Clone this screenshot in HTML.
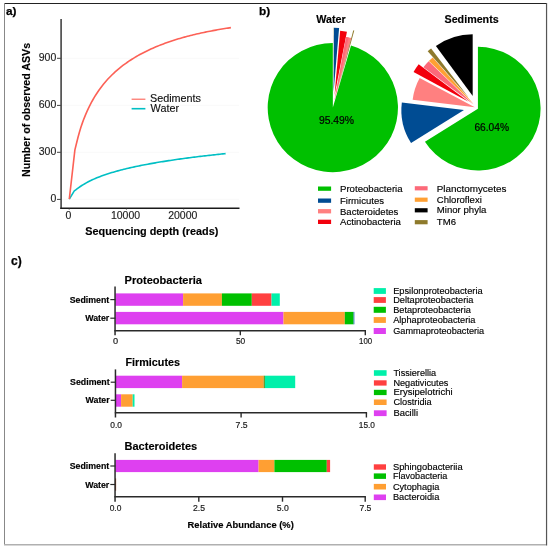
<!DOCTYPE html>
<html lang="en"><head><meta charset="utf-8"><title>Figure</title>
<style>
html,body{margin:0;padding:0;background:#fff;}
body{width:550px;height:551px;overflow:hidden;font-family:"Liberation Sans", Arial, Helvetica, sans-serif;}
svg{display:block;}
text{font-kerning:normal;}
</style></head><body>
<svg width="550" height="551" viewBox="0 0 550 551" font-family='"Liberation Sans", Arial, Helvetica, sans-serif'>
<rect x="0" y="0" width="550" height="551" fill="#fff"/>
<line x1="4" y1="3.5" x2="547" y2="3.5" stroke="#222" stroke-width="1"/>
<line x1="4.5" y1="3" x2="4.5" y2="545" stroke="#888" stroke-width="1"/>
<line x1="546.55" y1="3" x2="546.55" y2="545.4" stroke="#555" stroke-width="1.2"/>
<line x1="4" y1="544.8" x2="546" y2="544.8" stroke="#b0b0b0" stroke-width="1.6"/>
<text x="6" y="15" font-size="11.8" font-weight="700" text-anchor="start" fill="#000" stroke="#000" stroke-width="0.25">a)</text>
<text x="259.1" y="14.9" font-size="11.8" font-weight="700" text-anchor="start" fill="#000" stroke="#000" stroke-width="0.25">b)</text>
<text x="11" y="265.3" font-size="12" font-weight="700" text-anchor="start" fill="#000" stroke="#000" stroke-width="0.25">c)</text>
<line x1="62" y1="58.3" x2="239" y2="58.3" stroke="#f7f7f7" stroke-width="0.8"/>
<line x1="62" y1="105.4" x2="239" y2="105.4" stroke="#f7f7f7" stroke-width="0.8"/>
<line x1="62" y1="152.3" x2="239" y2="152.3" stroke="#f7f7f7" stroke-width="0.8"/>
<line x1="62" y1="199.4" x2="239" y2="199.4" stroke="#f7f7f7" stroke-width="0.8"/>
<line x1="61.1" y1="19" x2="61.1" y2="208.9" stroke="#444" stroke-width="1.6"/>
<line x1="60.3" y1="208.2" x2="239.5" y2="208.2" stroke="#1a1a1a" stroke-width="1.5"/>
<line x1="57" y1="58.3" x2="61" y2="58.3" stroke="#444" stroke-width="1"/>
<text x="56.3" y="61.099999999999994" font-size="10.5" text-anchor="end" fill="#222" stroke="#222" stroke-width="0.15">900</text>
<line x1="57" y1="105.4" x2="61" y2="105.4" stroke="#444" stroke-width="1"/>
<text x="56.3" y="108.2" font-size="10.5" text-anchor="end" fill="#222" stroke="#222" stroke-width="0.15">600</text>
<line x1="57" y1="152.3" x2="61" y2="152.3" stroke="#444" stroke-width="1"/>
<text x="56.3" y="155.10000000000002" font-size="10.5" text-anchor="end" fill="#222" stroke="#222" stroke-width="0.15">300</text>
<line x1="57" y1="199.4" x2="61" y2="199.4" stroke="#444" stroke-width="1"/>
<text x="56.3" y="202.20000000000002" font-size="10.5" text-anchor="end" fill="#222" stroke="#222" stroke-width="0.15">0</text>
<line x1="69.2" y1="208.2" x2="69.2" y2="209.6" stroke="#333" stroke-width="0.9"/>
<text x="68.3" y="219.0" font-size="10.5" text-anchor="middle" fill="#222" stroke="#222" stroke-width="0.15">0</text>
<line x1="126.4" y1="208.2" x2="126.4" y2="209.6" stroke="#333" stroke-width="0.9"/>
<text x="125.5" y="219.0" font-size="10.5" text-anchor="middle" fill="#222" stroke="#222" stroke-width="0.15">10000</text>
<line x1="183.7" y1="208.2" x2="183.7" y2="209.6" stroke="#333" stroke-width="0.9"/>
<text x="182.79999999999998" y="219.0" font-size="10.5" text-anchor="middle" fill="#222" stroke="#222" stroke-width="0.15">20000</text>
<path d="M69.30,199.10 L74.30,190.87 L75.80,189.78 L77.30,188.67 L78.80,187.58 L80.30,186.53 L81.80,185.54 L83.30,184.60 L84.80,183.70 L86.30,182.85 L87.80,182.04 L89.30,181.27 L90.80,180.53 L92.30,179.82 L93.80,179.14 L95.30,178.49 L96.80,177.86 L98.30,177.25 L99.80,176.67 L101.30,176.10 L102.80,175.56 L104.30,175.03 L105.80,174.51 L107.30,174.01 L108.80,173.53 L110.30,173.06 L111.80,172.60 L113.30,172.15 L114.80,171.72 L116.30,171.30 L117.80,170.88 L119.30,170.48 L120.80,170.08 L122.30,169.70 L123.80,169.32 L125.30,168.95 L126.80,168.59 L128.30,168.23 L129.80,167.88 L131.30,167.54 L132.80,167.21 L134.30,166.88 L135.80,166.56 L137.30,166.24 L138.80,165.93 L140.30,165.63 L141.80,165.33 L143.30,165.03 L144.80,164.74 L146.30,164.46 L147.80,164.18 L149.30,163.90 L150.80,163.63 L152.30,163.36 L153.80,163.10 L155.30,162.84 L156.80,162.58 L158.30,162.33 L159.80,162.08 L161.30,161.83 L162.80,161.59 L164.30,161.35 L165.80,161.11 L167.30,160.88 L168.80,160.65 L170.30,160.42 L171.80,160.20 L173.30,159.98 L174.80,159.76 L176.30,159.54 L177.80,159.33 L179.30,159.12 L180.80,158.91 L182.30,158.71 L183.80,158.50 L185.30,158.30 L186.80,158.10 L188.30,157.91 L189.80,157.71 L191.30,157.52 L192.80,157.33 L194.30,157.14 L195.80,156.95 L197.30,156.77 L198.80,156.58 L200.30,156.40 L201.80,156.22 L203.30,156.05 L204.80,155.87 L206.30,155.70 L207.80,155.52 L209.30,155.35 L210.80,155.18 L212.30,155.02 L213.80,154.85 L215.30,154.69 L216.80,154.52 L218.30,154.36 L219.80,154.20 L221.30,154.04 L222.80,153.89 L224.30,153.73 L225.60,153.60" fill="none" stroke="#00BFC4" stroke-width="1.6" stroke-linejoin="round"/>
<path d="M69.30,199.10 L74.90,149.91 L76.40,143.81 L77.90,137.78 L79.40,132.25 L80.90,127.31 L82.40,122.88 L83.90,118.83 L85.40,115.11 L86.90,111.64 L88.40,108.40 L89.90,105.35 L91.40,102.47 L92.90,99.76 L94.40,97.20 L95.90,94.77 L97.40,92.46 L98.90,90.27 L100.40,88.19 L101.90,86.20 L103.40,84.30 L104.90,82.49 L106.40,80.75 L107.90,79.08 L109.40,77.48 L110.90,75.95 L112.40,74.47 L113.90,73.05 L115.40,71.68 L116.90,70.35 L118.40,69.07 L119.90,67.84 L121.40,66.64 L122.90,65.49 L124.40,64.37 L125.90,63.28 L127.40,62.23 L128.90,61.21 L130.40,60.22 L131.90,59.25 L133.40,58.32 L134.90,57.41 L136.40,56.52 L137.90,55.66 L139.40,54.82 L140.90,54.00 L142.40,53.20 L143.90,52.43 L145.40,51.67 L146.90,50.93 L148.40,50.21 L149.90,49.51 L151.40,48.82 L152.90,48.15 L154.40,47.50 L155.90,46.86 L157.40,46.24 L158.90,45.63 L160.40,45.04 L161.90,44.46 L163.40,43.89 L164.90,43.34 L166.40,42.79 L167.90,42.26 L169.40,41.75 L170.90,41.24 L172.40,40.74 L173.90,40.26 L175.40,39.78 L176.90,39.32 L178.40,38.86 L179.90,38.42 L181.40,37.98 L182.90,37.56 L184.40,37.14 L185.90,36.73 L187.40,36.33 L188.90,35.94 L190.40,35.55 L191.90,35.18 L193.40,34.81 L194.90,34.45 L196.40,34.09 L197.90,33.75 L199.40,33.41 L200.90,33.07 L202.40,32.75 L203.90,32.43 L205.40,32.12 L206.90,31.81 L208.40,31.51 L209.90,31.21 L211.40,30.92 L212.90,30.64 L214.40,30.36 L215.90,30.09 L217.40,29.82 L218.90,29.56 L220.40,29.30 L221.90,29.05 L223.40,28.81 L224.90,28.56 L226.40,28.33 L227.90,28.09 L229.40,27.87 L230.90,27.64" fill="none" stroke="#FC6156" stroke-width="1.6" stroke-linejoin="round"/>
<line x1="131.6" y1="99.2" x2="145.4" y2="99.2" stroke="#FC6156" stroke-width="1.1"/>
<line x1="131.6" y1="108.7" x2="145.4" y2="108.7" stroke="#00BFC4" stroke-width="1.6"/>
<text x="150" y="102.3" font-size="11" text-anchor="start" fill="#111" stroke="#111" stroke-width="0.15" textLength="51" lengthAdjust="spacingAndGlyphs">Sediments</text>
<text x="150.6" y="111.9" font-size="11" text-anchor="start" fill="#111" stroke="#111" stroke-width="0.15" textLength="28.4" lengthAdjust="spacingAndGlyphs">Water</text>
<text x="85.3" y="235.2" font-size="10.8" font-weight="700" text-anchor="start" fill="#000" stroke="#000" stroke-width="0.15" textLength="133" lengthAdjust="spacingAndGlyphs">Sequencing depth (reads)</text>
<text transform="translate(29.6,109.9) rotate(-90)" font-size="10.5" font-weight="700" text-anchor="middle" fill="#000" stroke="#000" stroke-width="0.15" textLength="134" lengthAdjust="spacingAndGlyphs">Number of observed ASVs</text>
<g transform="translate(332.85,107.6) scale(1.0085,1)">
<path d="M0.00,0.00 L18.02,-62.03 A64.6,64.6 0 1 1 -0.00,-64.60 Z" fill="#00C000"/>
<path d="M0.07,-15.50 L0.07,-80.10 A64.6,64.6 0 0 1 0.63,-80.10 Z" fill="#E8D8A8"/>
<path d="M0.69,-15.28 L1.03,-79.88 A64.6,64.6 0 0 1 6.21,-79.65 Z" fill="#004C93"/>
<path d="M1.73,-12.48 L7.25,-76.84 A64.6,64.6 0 0 1 13.95,-75.91 Z" fill="#F2000D"/>
<path d="M1.64,-7.11 L13.19,-70.67 L15.73,-70.16 L18.36,-69.51 Z" fill="#FF8080"/>
<path d="M1.64,-7.11 L13.19,-70.67 L15.73,-70.16 Z" fill="#FC6A79"/>
<path d="M4.00,-14.87 L20.28,-77.39 A64.6,64.6 0 0 1 21.26,-77.12 Z" fill="#8E7A2C"/>
</g>
<text x="316.3" y="22.5" font-size="10.7" font-weight="700" text-anchor="start" fill="#000" stroke="#000" stroke-width="0.15" textLength="29.5" lengthAdjust="spacingAndGlyphs">Water</text>
<text x="318.9" y="124" font-size="10.5" text-anchor="start" fill="#000" stroke="#000" stroke-width="0.2" textLength="35.2" lengthAdjust="spacingAndGlyphs">95.49%</text>
<g transform="translate(475.7,107.45) scale(1.014,1)">
<path d="M2.19,1.21 L2.19,-60.59 A61.8,61.8 0 1 1 -50.05,34.23 Z" fill="#00C000"/>
<path d="M-11.51,2.58 L-63.75,35.61 A61.8,61.8 0 0 1 -72.85,-4.95 Z" fill="#004C93"/>
<path d="M-0.86,-0.27 L-62.20,-7.80 A61.8,61.8 0 0 1 -55.27,-29.57 Z" fill="#FF8080"/>
<path d="M-7.03,-5.82 L-61.29,-35.41 A61.8,61.8 0 0 1 -56.25,-43.19 Z" fill="#F2000D"/>
<path d="M-2.14,-3.00 L-51.56,-40.11 A61.8,61.8 0 0 1 -46.44,-46.09 Z" fill="#FC6A79"/>
<path d="M-1.85,-3.31 L-46.15,-46.39 A61.8,61.8 0 0 1 -42.39,-49.95 Z" fill="#FFA033"/>
<path d="M-6.78,-9.58 L-47.32,-56.22 A61.8,61.8 0 0 1 -43.97,-58.94 Z" fill="#8E7A2C"/>
<path d="M-2.95,-11.42 L-39.27,-61.42 A61.8,61.8 0 0 1 -2.95,-73.22 Z" fill="#000"/>
</g>
<text x="444.5" y="22.6" font-size="10.7" font-weight="700" text-anchor="start" fill="#000" stroke="#000" stroke-width="0.15" textLength="54.2" lengthAdjust="spacingAndGlyphs">Sediments</text>
<text x="474.4" y="130.5" font-size="10.5" text-anchor="start" fill="#000" stroke="#000" stroke-width="0.2" textLength="34.6" lengthAdjust="spacingAndGlyphs">66.04%</text>
<rect x="318" y="186.5" width="13.1" height="4.3" fill="#00C000"/>
<text x="340" y="192.1" font-size="9.6" text-anchor="start" fill="#000" stroke="#000" stroke-width="0.15" textLength="62.6" lengthAdjust="spacingAndGlyphs">Proteobacteria</text>
<rect x="318" y="198.5" width="13.1" height="4.3" fill="#004C93"/>
<text x="340" y="204.1" font-size="9.6" text-anchor="start" fill="#000" stroke="#000" stroke-width="0.15" textLength="44" lengthAdjust="spacingAndGlyphs">Firmicutes</text>
<rect x="318" y="209.1" width="13.1" height="4.3" fill="#FF8080"/>
<text x="340" y="214.8" font-size="9.6" text-anchor="start" fill="#000" stroke="#000" stroke-width="0.15" textLength="58.4" lengthAdjust="spacingAndGlyphs">Bacteroidetes</text>
<rect x="318" y="219.7" width="13.1" height="4.3" fill="#F2000D"/>
<text x="340" y="225.2" font-size="9.6" text-anchor="start" fill="#000" stroke="#000" stroke-width="0.15" textLength="60.9" lengthAdjust="spacingAndGlyphs">Actinobacteria</text>
<rect x="414.8" y="186.2" width="12.8" height="4.2" fill="#FC6A79"/>
<text x="436.8" y="191.8" font-size="9.6" text-anchor="start" fill="#000" stroke="#000" stroke-width="0.15" textLength="69.6" lengthAdjust="spacingAndGlyphs">Planctomycetes</text>
<rect x="414.8" y="197.6" width="12.8" height="4.2" fill="#FFA033"/>
<text x="436.8" y="202.7" font-size="9.6" text-anchor="start" fill="#000" stroke="#000" stroke-width="0.15" textLength="45" lengthAdjust="spacingAndGlyphs">Chloroflexi</text>
<rect x="414.8" y="208.2" width="12.8" height="4.2" fill="#000"/>
<text x="436.8" y="213.4" font-size="9.6" text-anchor="start" fill="#000" stroke="#000" stroke-width="0.15" textLength="49.6" lengthAdjust="spacingAndGlyphs">Minor phyla</text>
<rect x="414.8" y="220.1" width="12.8" height="4.2" fill="#8E7A2C"/>
<text x="436.8" y="225.2" font-size="9.6" text-anchor="start" fill="#000" stroke="#000" stroke-width="0.15" textLength="19.2" lengthAdjust="spacingAndGlyphs">TM6</text>
<text x="124.6" y="283.9" font-size="11" font-weight="700" text-anchor="start" fill="#000" stroke="#000" stroke-width="0.15" textLength="77.4" lengthAdjust="spacingAndGlyphs">Proteobacteria</text>
<rect x="115.3" y="293.4" width="67.80" height="12.40" fill="#DE40F0"/>
<rect x="183.1" y="293.4" width="38.80" height="12.40" fill="#FF9F33"/>
<rect x="221.9" y="293.4" width="29.90" height="12.40" fill="#00C000"/>
<rect x="251.8" y="293.4" width="19.70" height="12.40" fill="#FF4040"/>
<rect x="271.5" y="293.4" width="8.30" height="12.40" fill="#00F0AA"/>
<rect x="115.3" y="311.9" width="168.20" height="12.40" fill="#DE40F0"/>
<rect x="283.5" y="311.9" width="61.30" height="12.40" fill="#FF9F33"/>
<rect x="344.8" y="311.9" width="8.80" height="12.40" fill="#00C000"/>
<rect x="353.6" y="311.9" width="0.80" height="12.40" fill="#3070c0"/>
<line x1="115.05" y1="286.5" x2="115.05" y2="335.2" stroke="#2a2a2a" stroke-width="1.5"/>
<line x1="114.39999999999999" y1="330.7" x2="366.0" y2="330.7" stroke="#2a2a2a" stroke-width="1.4"/>
<line x1="110.3" y1="299.6" x2="115.3" y2="299.6" stroke="#2a2a2a" stroke-width="1.2"/>
<text x="109.3" y="302.70000000000005" font-size="8.8" font-weight="700" text-anchor="end" fill="#000" stroke="#000" stroke-width="0.15">Sediment</text>
<line x1="110.3" y1="318.2" x2="115.3" y2="318.2" stroke="#2a2a2a" stroke-width="1.2"/>
<text x="109.3" y="321.3" font-size="8.8" font-weight="700" text-anchor="end" fill="#000" stroke="#000" stroke-width="0.15">Water</text>
<text x="115.6" y="344.3" font-size="9.2" text-anchor="middle" fill="#1a1a1a" stroke="#1a1a1a" stroke-width="0.2">0</text>
<line x1="240.3" y1="330.7" x2="240.3" y2="335.2" stroke="#2a2a2a" stroke-width="1.4"/>
<text x="240.60000000000002" y="344.3" font-size="9.2" text-anchor="middle" fill="#1a1a1a" stroke="#1a1a1a" stroke-width="0.2" textLength="9.3" lengthAdjust="spacingAndGlyphs">50</text>
<line x1="365.3" y1="330.7" x2="365.3" y2="335.2" stroke="#2a2a2a" stroke-width="1.4"/>
<text x="365.6" y="344.3" font-size="9.2" text-anchor="middle" fill="#1a1a1a" stroke="#1a1a1a" stroke-width="0.2" textLength="13.1" lengthAdjust="spacingAndGlyphs">100</text>
<rect x="373.7" y="288.1" width="12.2" height="5.80" fill="#00F0AA"/>
<text x="393.2" y="294.2" font-size="9.2" text-anchor="start" fill="#000" stroke="#000" stroke-width="0.15" textLength="89.4" lengthAdjust="spacingAndGlyphs">Epsilonproteobacteria</text>
<rect x="373.7" y="297.1" width="12.2" height="5.80" fill="#FF4040"/>
<text x="393.2" y="303.4" font-size="9.2" text-anchor="start" fill="#000" stroke="#000" stroke-width="0.15">Deltaproteobacteria</text>
<rect x="373.7" y="306.8" width="12.2" height="6.00" fill="#00C000"/>
<text x="393.2" y="313.0" font-size="9.2" text-anchor="start" fill="#000" stroke="#000" stroke-width="0.15">Betaproteobacteria</text>
<rect x="373.7" y="317.1" width="12.2" height="5.80" fill="#FF9F33"/>
<text x="393.2" y="323.4" font-size="9.2" text-anchor="start" fill="#000" stroke="#000" stroke-width="0.15">Alphaproteobacteria</text>
<rect x="373.7" y="328" width="12.2" height="6.00" fill="#DE40F0"/>
<text x="393.2" y="334.3" font-size="9.2" text-anchor="start" fill="#000" stroke="#000" stroke-width="0.15" textLength="91" lengthAdjust="spacingAndGlyphs">Gammaproteobacteria</text>
<text x="125.5" y="366" font-size="11" font-weight="700" text-anchor="start" fill="#000" stroke="#000" stroke-width="0.15" textLength="54.5" lengthAdjust="spacingAndGlyphs">Firmicutes</text>
<rect x="115.7" y="375.7" width="66.40" height="12.40" fill="#DE40F0"/>
<rect x="182.1" y="375.7" width="81.60" height="12.40" fill="#FF9F33"/>
<rect x="263.7" y="375.7" width="1.20" height="12.40" fill="#5a8a10"/>
<rect x="264.9" y="375.7" width="30.30" height="12.40" fill="#00F0AA"/>
<rect x="115.7" y="394.3" width="5.40" height="12.40" fill="#DE40F0"/>
<rect x="121.1" y="394.3" width="11.60" height="12.40" fill="#FF9F33"/>
<rect x="132.7" y="394.3" width="1.80" height="12.40" fill="#00F0AA"/>
<line x1="115.45" y1="369.4" x2="115.45" y2="417.5" stroke="#2a2a2a" stroke-width="1.5"/>
<line x1="114.8" y1="412.8" x2="367.09999999999997" y2="412.8" stroke="#2a2a2a" stroke-width="1.4"/>
<line x1="110.7" y1="382.2" x2="115.7" y2="382.2" stroke="#2a2a2a" stroke-width="1.2"/>
<text x="109.7" y="385.3" font-size="8.8" font-weight="700" text-anchor="end" fill="#000" stroke="#000" stroke-width="0.15">Sediment</text>
<line x1="110.7" y1="400.3" x2="115.7" y2="400.3" stroke="#2a2a2a" stroke-width="1.2"/>
<text x="109.7" y="403.40000000000003" font-size="8.8" font-weight="700" text-anchor="end" fill="#000" stroke="#000" stroke-width="0.15">Water</text>
<text x="116.2" y="427.6" font-size="9.2" text-anchor="middle" fill="#1a1a1a" stroke="#1a1a1a" stroke-width="0.2" textLength="11.7" lengthAdjust="spacingAndGlyphs">0.0</text>
<line x1="241.1" y1="412.8" x2="241.1" y2="417.5" stroke="#2a2a2a" stroke-width="1.4"/>
<text x="241.6" y="427.6" font-size="9.2" text-anchor="middle" fill="#1a1a1a" stroke="#1a1a1a" stroke-width="0.2" textLength="12.0" lengthAdjust="spacingAndGlyphs">7.5</text>
<line x1="366.4" y1="412.8" x2="366.4" y2="417.5" stroke="#2a2a2a" stroke-width="1.4"/>
<text x="366.9" y="427.6" font-size="9.2" text-anchor="middle" fill="#1a1a1a" stroke="#1a1a1a" stroke-width="0.2" textLength="16.2" lengthAdjust="spacingAndGlyphs">15.0</text>
<rect x="373.9" y="370.2" width="12.7" height="5.60" fill="#00F0AA"/>
<text x="393.4" y="375.8" font-size="9.2" text-anchor="start" fill="#000" stroke="#000" stroke-width="0.15" textLength="42.7" lengthAdjust="spacingAndGlyphs">Tissierellia</text>
<rect x="373.9" y="380.3" width="12.7" height="5.30" fill="#FF4040"/>
<text x="393.4" y="385.5" font-size="9.2" text-anchor="start" fill="#000" stroke="#000" stroke-width="0.15" textLength="54.9" lengthAdjust="spacingAndGlyphs">Negativicutes</text>
<rect x="373.9" y="389.8" width="12.7" height="5.30" fill="#00C000"/>
<text x="393.4" y="394.9" font-size="9.2" text-anchor="start" fill="#000" stroke="#000" stroke-width="0.15" textLength="59.2" lengthAdjust="spacingAndGlyphs">Erysipelotrichi</text>
<rect x="373.9" y="399.5" width="12.7" height="5.50" fill="#FF9F33"/>
<text x="393.4" y="405" font-size="9.2" text-anchor="start" fill="#000" stroke="#000" stroke-width="0.15" textLength="38.3" lengthAdjust="spacingAndGlyphs">Clostridia</text>
<rect x="373.9" y="410.3" width="12.7" height="5.80" fill="#DE40F0"/>
<text x="393.4" y="416" font-size="9.2" text-anchor="start" fill="#000" stroke="#000" stroke-width="0.15" textLength="24.6" lengthAdjust="spacingAndGlyphs">Bacilli</text>
<text x="124.6" y="450.4" font-size="11" font-weight="700" text-anchor="start" fill="#000" stroke="#000" stroke-width="0.15" textLength="72.6" lengthAdjust="spacingAndGlyphs">Bacteroidetes</text>
<rect x="115.3" y="459.9" width="143.30" height="12.20" fill="#DE40F0"/>
<rect x="258.6" y="459.9" width="15.80" height="12.20" fill="#FF9F33"/>
<rect x="274.4" y="459.9" width="52.40" height="12.20" fill="#00C000"/>
<rect x="326.8" y="459.9" width="3.30" height="12.20" fill="#FF4040"/>
<rect x="115.1" y="478.4" width="1.00" height="12.30" fill="#a03000"/>
<line x1="115.05" y1="453.2" x2="115.05" y2="501.7" stroke="#2a2a2a" stroke-width="1.5"/>
<line x1="114.39999999999999" y1="496.7" x2="365.9" y2="496.7" stroke="#2a2a2a" stroke-width="1.4"/>
<line x1="110.3" y1="466" x2="115.3" y2="466" stroke="#2a2a2a" stroke-width="1.2"/>
<text x="109.3" y="469.1" font-size="8.8" font-weight="700" text-anchor="end" fill="#000" stroke="#000" stroke-width="0.15">Sediment</text>
<line x1="110.3" y1="484.5" x2="115.3" y2="484.5" stroke="#2a2a2a" stroke-width="1.2"/>
<text x="109.3" y="487.6" font-size="8.8" font-weight="700" text-anchor="end" fill="#000" stroke="#000" stroke-width="0.15">Water</text>
<text x="115.5" y="511.2" font-size="9.2" text-anchor="middle" fill="#1a1a1a" stroke="#1a1a1a" stroke-width="0.2" textLength="11.7" lengthAdjust="spacingAndGlyphs">0.0</text>
<line x1="198.8" y1="496.7" x2="198.8" y2="501.7" stroke="#2a2a2a" stroke-width="1.4"/>
<text x="199.0" y="511.2" font-size="9.2" text-anchor="middle" fill="#1a1a1a" stroke="#1a1a1a" stroke-width="0.2" textLength="12.0" lengthAdjust="spacingAndGlyphs">2.5</text>
<line x1="282.5" y1="496.7" x2="282.5" y2="501.7" stroke="#2a2a2a" stroke-width="1.4"/>
<text x="282.7" y="511.2" font-size="9.2" text-anchor="middle" fill="#1a1a1a" stroke="#1a1a1a" stroke-width="0.2" textLength="12.0" lengthAdjust="spacingAndGlyphs">5.0</text>
<line x1="365.2" y1="496.7" x2="365.2" y2="501.7" stroke="#2a2a2a" stroke-width="1.4"/>
<text x="365.4" y="511.2" font-size="9.2" text-anchor="middle" fill="#1a1a1a" stroke="#1a1a1a" stroke-width="0.2" textLength="12.0" lengthAdjust="spacingAndGlyphs">7.5</text>
<rect x="373.8" y="464.3" width="12.2" height="5.40" fill="#FF4040"/>
<text x="392.9" y="469.6" font-size="9.2" text-anchor="start" fill="#000" stroke="#000" stroke-width="0.15" textLength="69.7" lengthAdjust="spacingAndGlyphs">Sphingobacteriia</text>
<rect x="373.8" y="473.4" width="12.2" height="5.50" fill="#00C000"/>
<text x="392.9" y="478.8" font-size="9.2" text-anchor="start" fill="#000" stroke="#000" stroke-width="0.15" textLength="54.5" lengthAdjust="spacingAndGlyphs">Flavobacteria</text>
<rect x="373.8" y="483.9" width="12.2" height="5.60" fill="#FF9F33"/>
<text x="392.9" y="489.5" font-size="9.2" text-anchor="start" fill="#000" stroke="#000" stroke-width="0.15" textLength="46.4" lengthAdjust="spacingAndGlyphs">Cytophagia</text>
<rect x="373.8" y="494.5" width="12.2" height="5.60" fill="#DE40F0"/>
<text x="392.9" y="500.1" font-size="9.2" text-anchor="start" fill="#000" stroke="#000" stroke-width="0.15" textLength="46.4" lengthAdjust="spacingAndGlyphs">Bacteroidia</text>
<text x="187.6" y="527.6" font-size="9.3" font-weight="700" text-anchor="start" fill="#000" stroke="#000" stroke-width="0.15" textLength="106.2" lengthAdjust="spacingAndGlyphs">Relative Abundance (%)</text>
</svg>
</body></html>
